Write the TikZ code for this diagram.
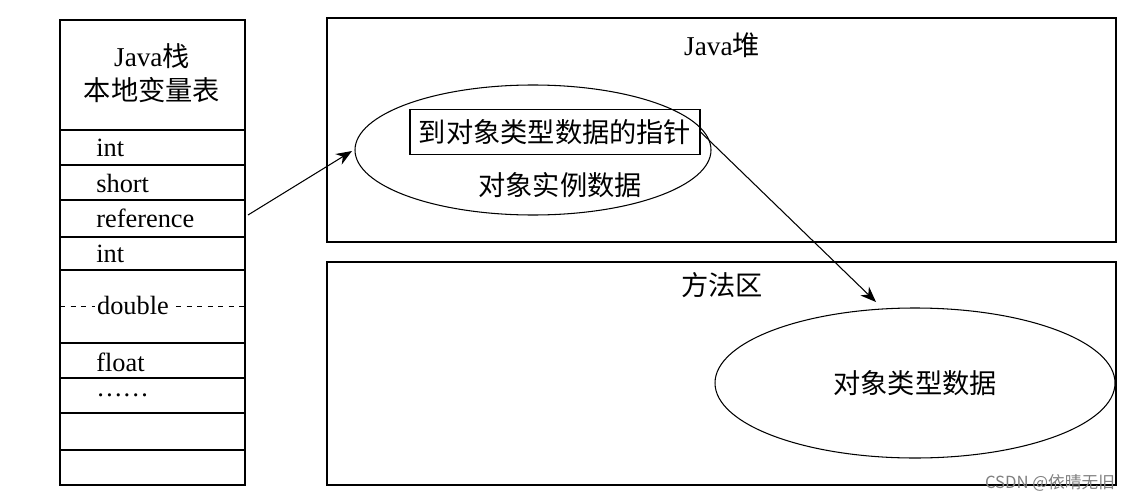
\documentclass[tikz,border=0pt]{standalone}
\usepackage{fontspec}
\setmainfont{Liberation Serif}
\newfontfamily\cjk{Noto Sans CJK SC}
\usetikzlibrary{arrows.meta}
\begin{document}
\begin{tikzpicture}[x=0.02cm,y=-0.02cm,
  cell/.style={draw,line width=0.6pt},
  lbl/.style={anchor=west,font=\fontsize{15pt}{17pt}\selectfont,inner sep=0},
  cn/.style={font=\fontsize{15.5pt}{19pt}\selectfont\cjk,inner sep=0},
  arr/.style={-{Stealth[length=9pt,width=7pt]},line width=0.6pt}]
\useasboundingbox (0,0) rectangle (1131,500);
% left stack
\draw[cell] (60,20) rectangle (245,485);
\foreach \yy in {130,165,200,237,270,343,378,413,450} \draw[cell] (60,\yy) -- (245,\yy);
\draw[dashed,line width=0.5pt] (60,306) -- (245,306);
\node[cn,align=center] (hdr) at (152,73) {{\rmfamily Java}栈\\本地变量表};
\node[lbl] (r1) at (96,148) {int};
\node[lbl] (r2) at (96,183) {short};
\node[lbl] (r3) at (96,218) {reference};
\node[lbl] (r4) at (96,254) {int};
\node[lbl,fill=white,inner xsep=1pt] (r5) at (95,305) {double};
\node[lbl] (r6) at (96,362) {float};
\node[lbl] (r7) at (96,395) {……};
% heap
\draw[cell] (327,18) rectangle (1116,242);
\node[cn] (heap) at (722,45) {{\rmfamily Java}堆};
\draw[cell] (533,150) ellipse (178 and 65);
\node[cn,draw,line width=0.6pt,minimum width=290*0.02cm,minimum height=45*0.02cm] (ptr) at (555,132) {到对象类型数据的指针};
\node[cn] (inst) at (560,185) {对象实例数据};
% method area
\draw[cell] (327,262) rectangle (1116,485);
\node[cn] (ma) at (722,285) {方法区};
\draw[cell] (915,383) ellipse (200 and 75);
\node[cn] (type) at (915,383) {对象类型数据};
\coordinate (e1) at (352,151);
\coordinate (e2) at (876,302);
\draw[arr] (248,215) -- (e1);
\draw[arr] (ptr.east) -- (e2);
\node[font=\fontsize{9.5pt}{10pt}\selectfont\cjk,text=gray,inner sep=0] (wm) at (1050,483) {CSDN @依晴无旧};
\end{tikzpicture}
\end{document}
